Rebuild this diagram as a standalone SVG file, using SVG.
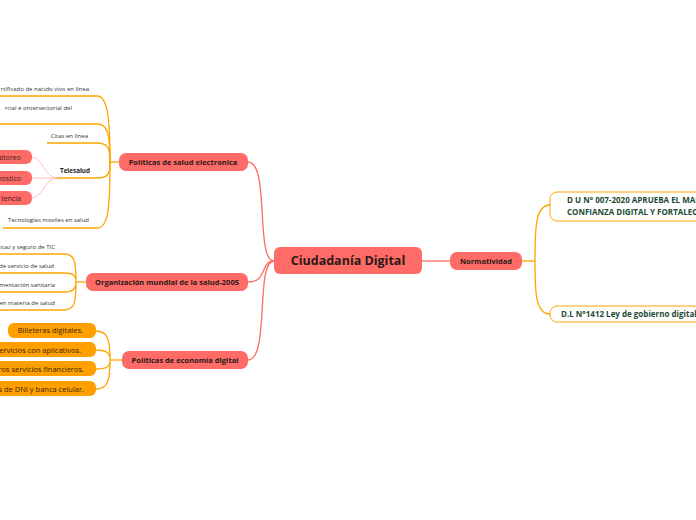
<svg xmlns="http://www.w3.org/2000/svg" width="696" height="520" viewBox="0 0 696 520">
<style>
text{font-family:"Open Sans","Noto Sans",sans-serif;}
.m{fill:#ff6b66;}
.mt{font-size:7.5px;font-weight:bold;fill:#2a1a1a;text-anchor:middle;}
.lt{font-size:6px;fill:#333;text-anchor:end;}
.ln{fill:none;stroke:#ffa500;stroke-width:1.3;}
.cn{fill:none;stroke:#ff6b66;stroke-width:1.3;}
.pk{fill:none;stroke:#ffb0b0;stroke-width:0.8;}
.ob{fill:#ffa000;}
.ot{font-size:7.5px;fill:#3a2500;text-anchor:end;}
.gt{font-size:8px;font-weight:bold;fill:#1d4a33;}
</style>
<rect width="696" height="520" fill="#fff"/>
<g id="connectors">
<path class="cn" d="M274 261 C255 261 270 162 248 162"/>
<path class="cn" d="M274 261 C260 261 268 282 248 282"/>
<path class="cn" d="M274 261 C255 261 270 360 248 360"/>
<path class="cn" d="M422 261 H450"/>
<path class="ln" d="M522 261 H535"/>
<path class="ln" d="M535 261 C535 230 535 205 550 205 M535 261 C535 290 535 314 550 314"/>
<path class="ln" d="M119 162 H110"/>
<path class="ln" d="M110 162 C110 120 108 96 97 96 H0"/>
<path class="ln" d="M110 162 C110 135 108 124 97 124 H0"/>
<path class="ln" d="M110 162 C110 148 108 143 97 143 H47"/>
<path class="ln" d="M110 162 C110 174 108 178 97 178 H57"/>
<path class="ln" d="M110 162 C110 210 108 228 97 228 H3"/>
<path class="pk" d="M57 178 C45 178 42 157 32 157 M57 178 H32 M57 178 C45 178 42 198 32 198"/>
<path class="ln" d="M86 282 H76"/>
<path class="ln" d="M76 282 C76 260 74 254 64 254 H0 M76 282 C76 276 74 273 64 273 H0 M76 282 C76 288 74 292 64 292 H0 M76 282 C76 304 74 310 64 310 H0"/>
<path class="ln" d="M122 360 H110"/>
<path class="ln" d="M110 360 C110 340 108 331 96 331 M110 360 C110 354 108 350 96 350 M110 360 C110 366 108 369 96 369 M110 360 C110 380 108 389 96 389"/>
</g>
<g id="central"><rect class="m" x="274" y="247" width="148" height="27" rx="6"/><text x="348" y="265" text-anchor="middle" font-size="12.5" font-weight="bold" fill="#2a1a1a">Ciudadanía Digital</text></g>
<g id="salud"><rect class="m" x="119" y="153" width="129" height="18" rx="7"/><text class="mt" x="183" y="165">Políticas de salud electronica</text></g>
<g id="oms"><rect class="m" x="86" y="273" width="162" height="18" rx="7"/><text class="mt" x="167" y="285">Organización mundial de la salud-2005</text></g>
<g id="econ"><rect class="m" x="122" y="351" width="126" height="18" rx="7"/><text class="mt" x="185" y="363">Políticas de economía digital</text></g>
<g id="norm"><rect class="m" x="450" y="252" width="72" height="18" rx="7"/><text class="mt" x="486" y="264">Normatividad</text></g>
<g id="s1"><text class="lt" x="89" y="91">rtificado de nacido vivo en línea</text></g>
<g id="s2"><text class="lt" x="72" y="110">rcial e ontersectorial del</text></g>
<g id="s3"><text class="lt" x="88" y="138">Citas en línea</text></g>
<g id="s4"><text x="90" y="173" font-size="6.3" font-weight="bold" fill="#222" text-anchor="end">Telesalud</text></g>
<g id="s5"><text class="lt" x="89" y="222">Tecnologías moviles en salud</text></g>
<g id="t1"><rect class="m" x="-10" y="150" width="42" height="14" rx="6"/><text x="21" y="160" font-size="7" fill="#3a1a1a" text-anchor="end">aitoreo</text></g>
<g id="t2"><rect class="m" x="-10" y="171" width="42" height="14" rx="6"/><text x="21" y="181" font-size="7" fill="#3a1a1a" text-anchor="end">nostico</text></g>
<g id="t3"><rect class="m" x="-10" y="191" width="42" height="14" rx="6"/><text x="21" y="201" font-size="7" fill="#3a1a1a" text-anchor="end">tencia</text></g>
<g id="o1"><text class="lt" x="55" y="249">icaz y seguro de TIC</text></g>
<g id="o2"><text class="lt" x="54" y="268">de servicio de salud</text></g>
<g id="o3"><text class="lt" x="55" y="287">mentación sanitaria</text></g>
<g id="o4"><text class="lt" x="55" y="305">en materia de salud</text></g>
<g id="e1"><rect class="ob" x="8" y="323" width="88" height="15" rx="6"/><text class="ot" x="83" y="333">Billeteras digitales.</text></g>
<g id="e2"><rect class="ob" x="-10" y="342" width="106" height="15" rx="6"/><text class="ot" x="81" y="353">servicios con aplicativos.</text></g>
<g id="e3"><rect class="ob" x="-10" y="361" width="106" height="15" rx="6"/><text class="ot" x="84" y="372">tros servicios financieros.</text></g>
<g id="e4"><rect class="ob" x="-10" y="381" width="106" height="15" rx="6"/><text class="ot" x="84" y="392">as de DNI y banca celular.</text></g>
<g id="n1"><rect x="550" y="192" width="160" height="29" rx="7" fill="#fff" stroke="#ffa500" stroke-width="1"/><text class="gt" x="567" y="203">D U N° 007-2020 APRUEBA EL MARCO DE</text><text class="gt" x="567" y="215">CONFIANZA DIGITAL Y FORTALECE</text></g>
<g id="n2"><rect x="550" y="306" width="160" height="16" rx="7" fill="#fff" stroke="#ffa500" stroke-width="1"/><text class="gt" x="561" y="317">D.L N°1412 Ley de gobierno digital</text></g>
</svg>
